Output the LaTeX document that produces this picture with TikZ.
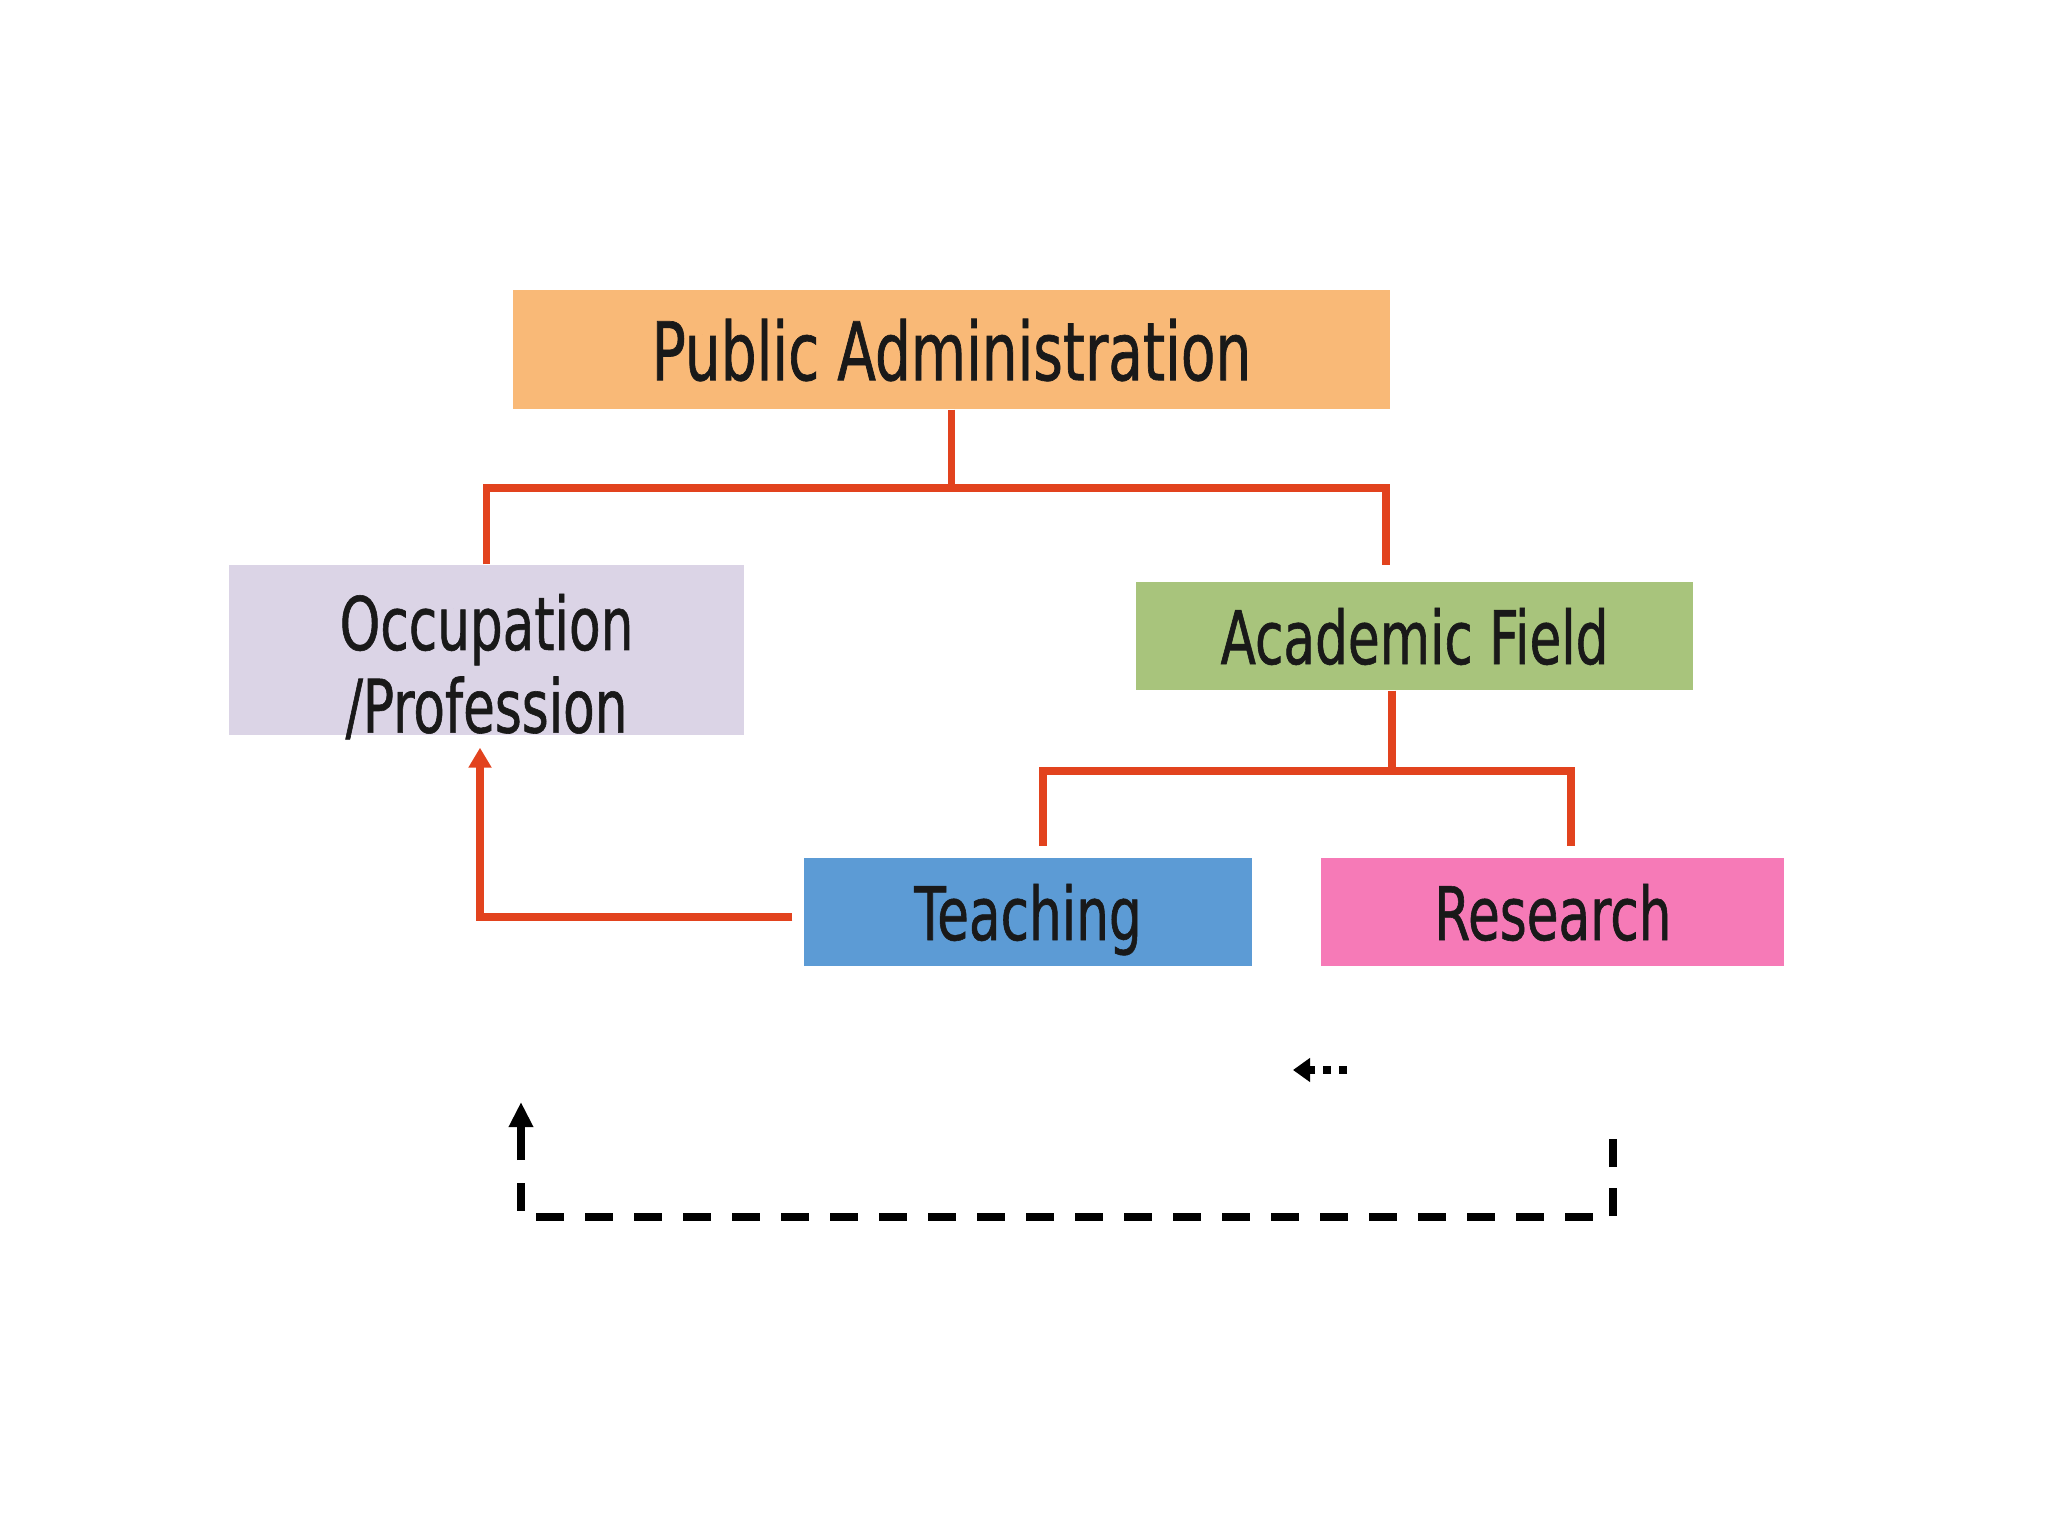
\documentclass[tikz,border=0pt]{standalone}
\usepackage{fontspec}
\newfontfamily\boxfont{DejaVu Sans}[FakeStretch=0.70, FakeBold=0.8]
\usepackage{xcolor}
\usepackage{tikz}
\usetikzlibrary{arrows.meta}
\usetikzlibrary{positioning}
\definecolor{paorange}{HTML}{F9B977}
\definecolor{occlilac}{HTML}{DBD4E6}
\definecolor{acadgreen}{HTML}{A8C47C}
\definecolor{teachblue}{HTML}{5C9BD5}
\definecolor{respink}{HTML}{F67AB7}
\definecolor{linkred}{HTML}{E2431E}

\begin{document}
\begin{tikzpicture}[box/.style={inner sep=0pt, text=black!90, align=center, text depth=0pt, font=\boxfont\fontsize{21pt}{23.5pt}\selectfont},
	tree/.style={draw=linkred, line width=2pt},
	back/.style={draw=black, line width=2.3pt, dash pattern=on 2.8mm off 2.1mm}]
			\fill[white] (0,0) rectangle (20.48,-15.36);
			\useasboundingbox (0,0) rectangle (20.48,-15.36);
			\node[box, fill=paorange, minimum width=8.77cm, minimum height=1.19cm, font=\boxfont\fontsize{23pt}{26pt}\selectfont] (pa) at (9.515,-3.495) {Public Administration};
			\node[box, fill=occlilac, minimum width=5.15cm, minimum height=1.70cm] (occ) at (4.865,-6.50) {\raisebox{0pt}[0pt][0pt]{\begin{tabular}[t]{@{}c@{}}Occupation\\/Profession\end{tabular}}};
			\node[box, fill=acadgreen, minimum width=5.57cm, minimum height=1.08cm] (acad) at (14.145,-6.36) {Academic Field};
			\node[box, fill=teachblue, minimum width=4.48cm, minimum height=1.08cm] (teach) at (10.28,-9.12) {Teaching};
			\node[box, fill=respink, minimum width=4.63cm, minimum height=1.08cm, right=0.68cm of teach] (res) {Research};
			\coordinate (pj) at (9.515,-4.88);
			\coordinate (afdrop) at (13.86,-5.65);
			\coordinate (aj) at (13.92,-7.71);
			\coordinate (tdrop) at (10.43,-8.46);
			\coordinate (rdrop) at (15.71,-8.46);
			\draw[tree] (pa.south) -- (pj);
			\draw[tree] (occ.north) |- (pj) -| (afdrop);
			\draw[tree] (acad.south -| aj) -- (aj);
			\foreach \drop in {tdrop, rdrop}
			{
				\draw[tree] (aj) -| (\drop);
			}
			\draw[tree, -{Triangle[length=2mm, width=2.2mm]}] ([xshift=-1.1mm, yshift=-0.5mm]teach.west) -| ([xshift=-0.65mm, yshift=-1.2mm]occ.south);
			\coordinate (lstart) at (16.13,-11.33);
			\coordinate (lbend) at (5.21,-11.83);
			\coordinate (lfoot) at (5.21,-11.60);
			\coordinate (lend) at (5.21,-11.02);
			\draw[back] (lbend) -- ++(0,-0.34) -| (lstart);
			\draw[draw=black, line width=2.3pt, -{Triangle[length=2.5mm, width=2.3mm]}] (lfoot) -- (lend);
			\coordinate (sstart) at (13.47,-10.70);
			\coordinate (send) at (12.93,-10.70);
			\draw[draw=black, line width=2.3pt, dash pattern=on 0.8mm off 0.8mm, -{Triangle[length=1.7mm, width=2.3mm]}] (sstart) -- (send);
		\end{tikzpicture}
\end{document}
